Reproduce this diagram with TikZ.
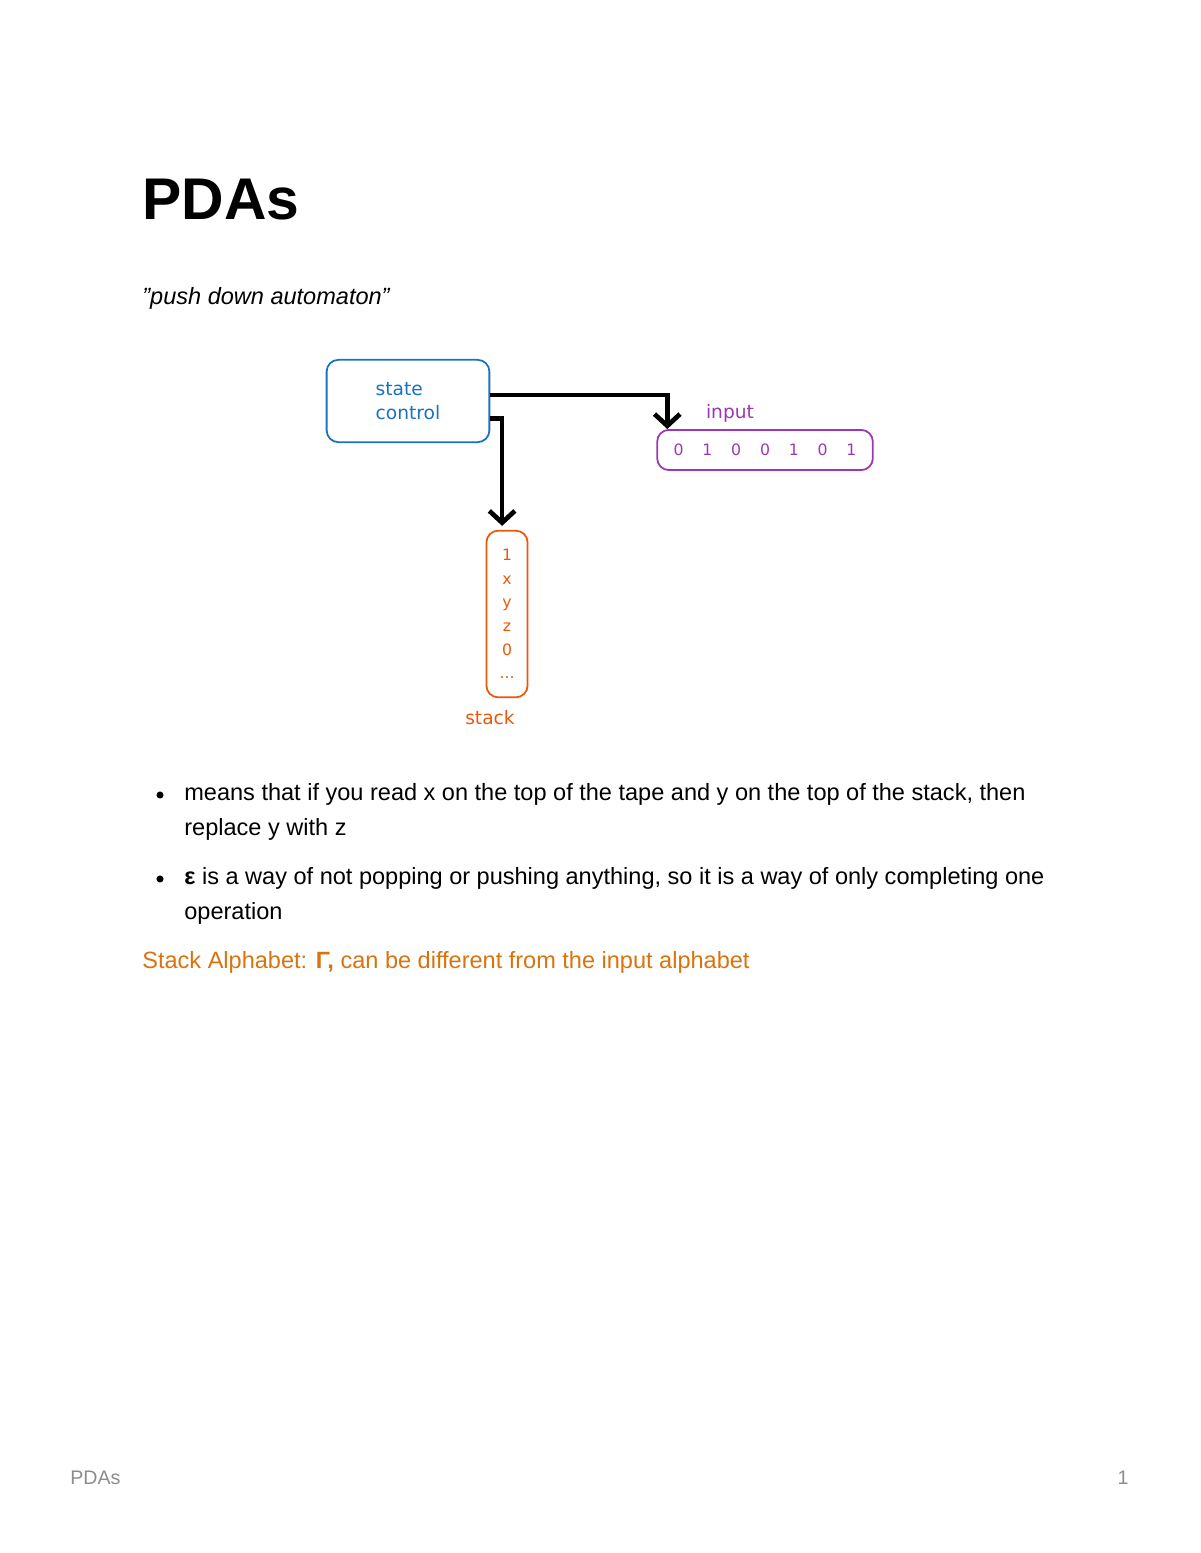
\documentclass[tikz,border=0pt]{standalone}
\usepackage{fontspec}
\setmainfont{Liberation Sans}
\newfontfamily\handfont{DejaVu Sans}
\usetikzlibrary{positioning,arrows.meta}
\definecolor{ctrlblue}{HTML}{1971C2}
\definecolor{tapepurple}{HTML}{9C36B5}
\definecolor{stackorange}{HTML}{E8590C}
\definecolor{noteorange}{HTML}{D9730D}
\definecolor{footgray}{HTML}{8C8C8C}

\begin{document}
\begin{tikzpicture}[x=0.51pt,y=-0.51pt,
  box/.style={draw,rounded corners=6pt,line width=0.9pt,inner sep=0pt},
  hand/.style={font=\handfont\fontsize{8}{12}\selectfont},
  bighand/.style={font=\handfont\fontsize{9.5}{12}\selectfont},
  push/.style={line width=2.4pt,-{Straight Barb[length=6pt,width=13pt,line width=2.4pt]}},
  body/.style={anchor=base west,inner sep=0pt,font=\fontsize{12}{18}\selectfont},
  dot/.style={circle,fill,inner sep=0pt,minimum size=3.6pt}]
\useasboundingbox (0,0) rectangle (1200,1553);
\node[anchor=base west,inner sep=0pt,font=\bfseries\fontsize{30}{36}\selectfont] (title) at (142,220) {PDAs};
\node[body,font=\itshape\fontsize{12}{18}\selectfont] (sub) at (142,304) {"push down automaton”};
\node[box,ctrlblue,bighand,minimum width=83pt,minimum height=42pt,align=left] (ctrl) at (408,401) {state\\control};
\node[box,tapepurple,hand,minimum width=110pt,minimum height=20.5pt] (tape) at (765,450) {\spaceskip=9.6pt 0 1 0 0 1 0 1};
\node[tapepurple,bighand,inner sep=0pt] (tapelbl) at (730,413) {input};
\node[box,stackorange,hand,minimum width=21pt,minimum height=85pt,align=center] (stk) at (507,614) {1\\x\\y\\z\\0\\...};
\node[stackorange,bighand,inner sep=0pt] (stklbl) at (490,718) {stack};
\draw[push] ([yshift=3pt]ctrl.east) -| ([xshift=5.6pt]tape.north west);
\draw[push] ([yshift=-9pt]ctrl.east) -| ([xshift=-2.5pt,yshift=2pt]stk.north);
\node[dot] (b1) at (160,795) {};
\node[body] (l1) at (184,800) {means that if you read x on the top of the tape and y on the top of the stack, then};
\node[body] (l2) at (184,835) {replace y with z};
\node[dot] (b2) at (160,879) {};
\node[body] (l3) at (184,884) {\textbf{ε} is a way of not popping or pushing anything, so it is a way of only completing one};
\node[body] (l4) at (184,919) {operation};
\node[body,noteorange] (gamma) at (142,968) {Stack Alphabet: \textbf{Γ,} can be different from the input alphabet};
\node[body,footgray,font=\fontsize{10}{12}\selectfont] (foot) at (70,1484) {PDAs};
\node[body,footgray,anchor=base east,font=\fontsize{10}{12}\selectfont] (pageno) at (1129,1484) {1};
\end{tikzpicture}
\end{document}
